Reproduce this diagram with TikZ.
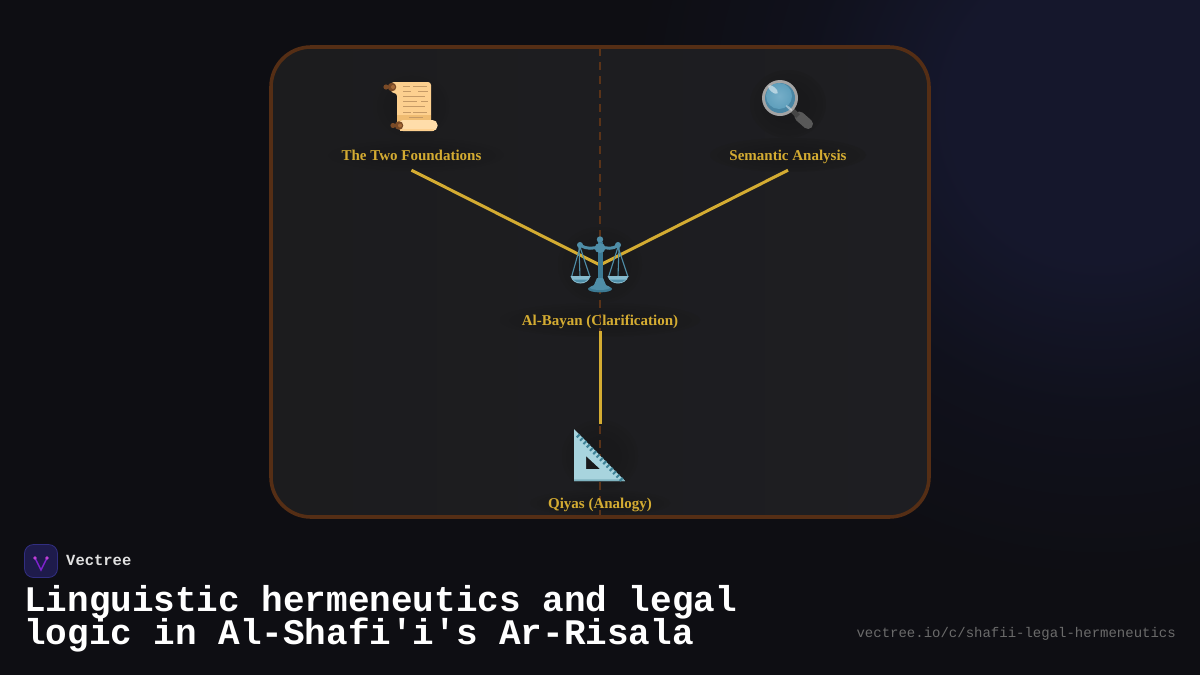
\documentclass[tikz,border=0pt]{standalone}
\usepackage{fontspec}
\setmainfont{Liberation Serif}
\newfontfamily\monof{Liberation Mono}
\definecolor{bgbase}{HTML}{0E0E13}
\definecolor{bgglow}{HTML}{15172C}
\definecolor{bgmid}{HTML}{10111C}
\definecolor{panelA}{HTML}{1C1C1E}
\definecolor{panelB}{HTML}{1E1E22}
\definecolor{halo}{HTML}{19191B}
\definecolor{rim}{HTML}{552E15}
\definecolor{axisc}{HTML}{5A3318}
\definecolor{gold}{HTML}{D4AC32}
\definecolor{paper}{HTML}{FDD08F}
\definecolor{paperL}{HTML}{FFDDAA}
\definecolor{paperD}{HTML}{EFBC72}
\definecolor{ink}{HTML}{C59A66}
\definecolor{wood}{HTML}{7A4A26}
\definecolor{woodL}{HTML}{A56A38}
\definecolor{steel}{HTML}{4F8EA8}
\definecolor{steelD}{HTML}{3C7A94}
\definecolor{steelL}{HTML}{86BACD}
\definecolor{lens}{HTML}{5F9FBC}
\definecolor{lensD}{HTML}{4A86A4}
\definecolor{lensL}{HTML}{76AEC8}
\definecolor{silver}{HTML}{A4A4A4}
\definecolor{handle}{HTML}{585858}
\definecolor{rulerc}{HTML}{A8D4DE}
\definecolor{rulerD}{HTML}{7FB3C0}
\definecolor{tick}{HTML}{3E8296}
\definecolor{logoF}{HTML}{1E1B4B}
\definecolor{logoB}{HTML}{312E81}
\definecolor{logoV}{HTML}{7E22CE}
\definecolor{logoT}{HTML}{C040D8}
\pgfdeclareradialshading{bgshade}{\pgfpoint{0bp}{0bp}}{color(0bp)=(bgglow); color(8bp)=(bgglow); color(16bp)=(bgmid); color(25bp)=(bgbase); color(50bp)=(bgbase)}
\pgfdeclareradialshading{haloshade}{\pgfpoint{0bp}{0bp}}{color(0bp)=(halo); color(12bp)=(halo); color(25bp)=(panelA); color(50bp)=(panelA)}
\tikzset{
  lbl/.style={font=\fontsize{15}{18}\selectfont\bfseries, text=gold, inner sep=0pt, minimum height=30pt, text height=10pt, text depth=0pt, align=center},
  link/.style={draw=gold, line width=3pt},
  inkline/.style={draw=ink, line width=.9pt},
  tickline/.style={draw=tick, line width=2pt},
  string/.style={draw=steel, line width=1.1pt},
  mono/.style={inner sep=0pt},
  halobox/.style={shading=haloshade},
}
\begin{document}
\begin{tikzpicture}[x=1pt,y=-1pt]
\useasboundingbox (0,0) rectangle (1200,675);
% background
\fill[bgbase] (0,0) rectangle (1200,675);
\begin{scope}
\clip (0,0) rectangle (1200,675);
\shade[shading=bgshade] (1100,110) circle (470);
\end{scope}
% panel
\shade[left color=panelA,right color=panelB] (271,47) [rounded corners=40pt] rectangle (929,517);
% soft dark halos behind labels and icons
\shade[halobox] (411.5,155) ellipse (92 and 17);
\shade[halobox] (788,155) ellipse (78 and 17);
\shade[halobox] (600,320) ellipse (100 and 17);
\shade[halobox] (600,503) ellipse (70 and 13);
\shade[halobox] (411,106) ellipse (38 and 34);
\shade[halobox] (788,104) ellipse (38 and 34);
\shade[halobox] (600,265) ellipse (42 and 38);
\shade[halobox] (600,456) ellipse (38 and 36);
\coordinate (axisTop) at (600,48);
\coordinate (axisBot) at (600,516);
\draw[axisc,line width=1.4pt,dash pattern=on 8pt off 6pt] (axisTop) -- (axisBot);
\draw[rim,line width=3.6pt,rounded corners=40pt] (271,47) rectangle (929,517);
% labels
\node[lbl] (foundations) at (411.5,155) {The Two Foundations};
\node[lbl] (semantic) at (788,155) {Semantic Analysis};
\node[lbl,minimum height=22pt] (bayan) at (600,320) {Al-Bayan (Clarification)};
\node[lbl] (qiyas) at (600,503) {Qiyas (Analogy)};
\coordinate (hub) at (600,265);
\coordinate (qiyasTop) at (600,424);
% connectors
\draw[link] (foundations.south) -- (hub);
\draw[link] (semantic.south) -- (hub);
\draw[link] (bayan.south) -- (qiyasTop);
% scroll
\fill[paper,rounded corners=3pt] (391,82) -- (431,82) -- (431,124) -- (397,124) -- (397,93) -- (391,93) -- cycle;
\fill[paperD] (397,115) rectangle (431,122);
\foreach \xa/\xb/\yy in {403/410/86,413/427/86,403/411/91,418/428/91,403/425/96,403/417/101,421/428/101,403/425/106,403/411/112,413/427/112,409/423/117}
  \draw[inkline] (\xa,\yy) -- (\xb,\yy);
\fill[wood] (386,87) circle (2.6);
\fill[wood] (392,87) circle (4.3);
\fill[woodL] (393,87) circle (2);
\fill[paperL,rounded corners=5pt] (398,120) rectangle (437.5,131);
\fill[paper] (400,128.5) rectangle (434,131);
\fill[wood] (393,125.5) circle (2.6);
\fill[wood] (399,125.5) circle (4.3);
\fill[woodL] (400,125.5) circle (2);
% magnifier
\draw[handle,line width=10pt,line cap=round] (799.5,116.5) -- (808,124);
\draw[handle!80!black,line width=5pt] (791,109) -- (798,116);
\fill[silver] (780,98) circle (18);
\fill[lensD] (780,98) circle (15);
\shade[inner color=lensL,outer color=lens] (779,96) circle (13);
\fill[white,opacity=.5,rotate around={-40:(773,89.5)}] (773,89.5) ellipse (6 and 2.6);
\fill[white,opacity=.45,rotate around={-40:(789,108)}] (789,108) ellipse (4 and 1.2);
% scales
\fill[steelD] (597.5,242) rectangle (602.5,286);
\draw[steel,line width=3pt] (580,245) .. controls (588,250) and (592,248) .. (600,247) .. controls (608,248) and (612,250) .. (618,245);
\fill[steel] (580,245) circle (3);
\fill[steel] (618,245) circle (3);
\fill[steel] (600,239.5) circle (3.2);
\fill[steel] (600,248) ellipse (5.5 and 5);
\draw[string] (580,247) -- (571.5,277);
\draw[string] (580,247) -- (590,277);
\draw[string] (579,247) -- (580,277);
\draw[string] (618,247) -- (608.5,277);
\draw[string] (618,247) -- (628,277);
\draw[string] (619,247) -- (618,277);
\fill[steelL] (570.5,276) .. controls (573,286) and (588,286) .. (590.5,276) -- cycle;
\fill[steel] (573,279.5) .. controls (577,283.5) and (584,283.5) .. (588,279.5) -- cycle;
\fill[steelL] (607.5,276) .. controls (610,286) and (626,286) .. (628.5,276) -- cycle;
\fill[steel] (610,279.5) .. controls (614,283.5) and (622,283.5) .. (626,279.5) -- cycle;
\fill[steel] (597,278) -- (603,278) -- (606,285) -- (612,289) -- (588,289) -- (594,285) -- cycle;
\fill[steelD] (600,289) ellipse (12 and 3.4);
\fill[steel] (600,287.5) ellipse (10 and 2.5);
% set square
\fill[rulerc,even odd rule] (574,429) -- (574,481) -- (625,481) -- cycle (586,456) -- (586,469) -- (600,469) -- cycle;
\fill[rulerD] (574,479.3) -- (623.3,479.3) -- (625,481) -- (574,481) -- cycle;
\foreach \i in {1,...,14}
  \draw[tickline] ({576.5+\i*3.3},{431+\i*3.35}) -- ++(-3,3);
% footer
\fill[logoF,draw=logoB,line width=.8pt,rounded corners=9pt] (24.5,544.5) rectangle (57.5,577.5);
\coordinate (vBase) at (41,570);
\coordinate (vL) at (35,558);
\coordinate (vR) at (47,558);
\draw[logoV,line width=1.4pt,line cap=round] (vL) -- (vBase) -- (vR);
\fill[logoT] (vL) circle (1.8);
\fill[logoT] (vR) circle (1.8);
\node[mono,anchor=base west,font=\monof\bfseries\fontsize{15.5}{18}\selectfont,text=white!88!black] (brand) at (66,565) {Vectree};
\node[mono,anchor=base west,font=\monof\bfseries\fontsize{36}{36}\selectfont,text=white] (title1) at (24,611) {Linguistic hermeneutics and legal};
\node[mono,anchor=base west,font=\monof\bfseries\fontsize{36}{36}\selectfont,text=white] (title2) at (24,644) {logic in Al-Shafi'i's Ar-Risala};
\node[anchor=base east,inner sep=0pt,font=\monof\fontsize{14}{16}\selectfont,text=white!42!black] (url) at (1176,637) {vectree.io/c/shafii-legal-hermeneutics};
\end{tikzpicture}
\end{document}
